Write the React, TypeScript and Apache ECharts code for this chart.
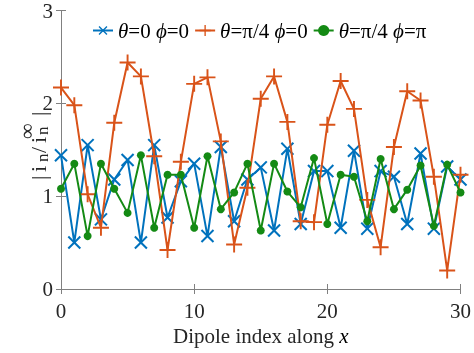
import React, { useEffect, useRef } from "react";
import * as echarts from "echarts";

const dipoleIndex: number[] = Array.from({ length: 31 }, (_, i) => i);

const seriesNames = ["θ=0 ϕ=0", "θ=π/4 ϕ=0", "θ=π/4 ϕ=π"];
const legendLabels = ["{i|θ}=0 {i|ϕ}=0", "{i|θ}=π/4 {i|ϕ}=0", "{i|θ}=π/4 {i|ϕ}=π"];

const theta0phi0: number[] = [
  1.44, 0.5, 1.55, 0.75, 1.18, 1.39, 0.5, 1.55, 0.77, 1.16, 1.35, 0.57, 1.53, 0.73, 1.18, 1.31,
  0.63, 1.51, 0.7, 1.27, 1.27, 0.66, 1.49, 0.65, 1.27, 1.21, 0.7, 1.46, 0.65, 1.32, 1.18,
];
const thetaQuarterPhi0: number[] = [
  2.17, 1.98, 1.02, 0.66, 1.79, 2.44, 2.29, 1.43, 0.42, 1.37, 2.21, 2.28, 1.59, 0.48, 1.09, 2.05,
  2.29, 1.8, 0.73, 0.72, 1.77, 2.24, 1.94, 0.96, 0.45, 1.53, 2.13, 2.03, 1.21, 0.2, 1.23,
];
const thetaQuarterPhiPi: number[] = [
  1.08, 1.35, 0.57, 1.35, 1.08, 0.82, 1.44, 0.66, 1.23, 1.23, 0.66, 1.43, 0.86, 1.04, 1.35, 0.63,
  1.35, 1.05, 0.88, 1.41, 0.7, 1.23, 1.21, 0.73, 1.4, 0.86, 1.07, 1.33, 0.68, 1.34, 1.04,
];

const xTicks = [0, 10, 20, 30];
const yTicks = [0, 1, 2, 3];

const colors = ["#0072BD", "#D95319", "#148A14"];
const FONT = "Liberation Serif";
const PLUS = "path://M44,0H56V44H100V56H56V100H44V56H0V44H44Z";

export default function App() {
  const ref = useRef<HTMLDivElement>(null);
  useEffect(() => {
    if (!ref.current) return;
    const chart = echarts.init(ref.current, undefined, { renderer: "svg" });
    const pairs = (arr: number[]) => arr.map((v, i) => [dipoleIndex[i], v]);
    const axisLine = { show: true, lineStyle: { color: "#808080", width: 1 } };
    const tick = { show: true, inside: true, length: 5, lineStyle: { color: "#808080" } };
    const labelStyle = { fontFamily: FONT, fontSize: 21, color: "#262626" };
    const rich = {
      i: { fontFamily: FONT, fontSize: 21, fontStyle: "italic", color: "#000" },
    };
    const seriesArrays = [theta0phi0, thetaQuarterPhi0, thetaQuarterPhiPi];
    const symbols = [PLUS, PLUS, "circle"];
    const sizes = [17, 16, 8];
    const rotates = [45, 0, 0];
    chart.setOption({
      animation: false,
      grid: { left: 61, right: 12, top: 7, bottom: 64 },
      legend: {
        top: 15,
        left: 87,
        itemWidth: 20,
        itemHeight: 14,
        itemGap: 5,
        data: seriesNames,
        formatter: (name: string) => legendLabels[seriesNames.indexOf(name)],
        textStyle: { fontFamily: FONT, fontSize: 21, color: "#000", rich },
      },
      xAxis: [
        {
          type: "value",
          min: 0,
          max: 30,
          interval: 10,
          axisLine,
          axisTick: tick,
          splitLine: { show: false },
          axisLabel: { ...labelStyle, margin: 11, formatter: (v: number) => (xTicks.includes(v) ? String(v) : "") },
          name: "Dipole index along {i|x}",
          nameLocation: "middle",
          nameGap: 30,
          nameTextStyle: { fontFamily: FONT, fontSize: 21, color: "#262626", rich },
        },
        {
          type: "value",
          position: "top",
          min: 0,
          max: 30,
          interval: 10,
          axisLine,
          axisTick: tick,
          axisLabel: { show: false },
          splitLine: { show: false },
        },
      ],
      yAxis: [
        {
          type: "value",
          min: 0,
          max: 3,
          interval: 1,
          axisLine,
          axisTick: tick,
          splitLine: { show: false },
          axisLabel: { ...labelStyle, margin: 8, formatter: (v: number) => (yTicks.includes(v) ? String(v) : "") },
        },
        {
          type: "value",
          position: "right",
          min: 0,
          max: 3,
          interval: 1,
          axisLine,
          axisTick: tick,
          axisLabel: { show: false },
          splitLine: { show: false },
        },
      ],
      series: seriesArrays.map((arr, k) => ({
        name: seriesNames[k],
        type: "line",
        data: pairs(arr),
        symbol: symbols[k],
        symbolSize: sizes[k],
        symbolRotate: rotates[k],
        showAllSymbol: true,
        lineStyle: { color: colors[k], width: 2 },
        itemStyle: { color: colors[k], borderWidth: 0 },
        z: 2 + k,
      })),
      graphic: [
        {
          type: "group",
          x: 27,
          y: 180,
          rotation: Math.PI / 2,
          children: [
            { type: "text", x: 0, y: 0, style: { text: "|", font: `22px ${FONT}`, fill: "#262626", verticalAlign: "alphabetic" } },
            { type: "text", x: 8, y: 0, style: { text: "i", font: `22px ${FONT}`, fill: "#262626", verticalAlign: "alphabetic" } },
            { type: "text", x: 18, y: 7, style: { text: "n", font: `17px ${FONT}`, fill: "#262626", verticalAlign: "alphabetic" } },
            { type: "text", x: 27, y: 0, style: { text: "/", font: `22px ${FONT}`, fill: "#262626", verticalAlign: "alphabetic" } },
            { type: "text", x: 37, y: 0, style: { text: "i", font: `22px ${FONT}`, fill: "#262626", verticalAlign: "alphabetic" } },
            { type: "text", x: 45, y: 7, style: { text: "n", font: `17px ${FONT}`, fill: "#262626", verticalAlign: "alphabetic" } },
            { type: "text", x: 41, y: -12, style: { text: "∞", font: `22px ${FONT}`, fill: "#262626", verticalAlign: "alphabetic" } },
            { type: "text", x: 64, y: 0, style: { text: "|", font: `22px ${FONT}`, fill: "#262626", verticalAlign: "alphabetic" } },
          ],
        },
      ],
    });
    return () => chart.dispose();
  }, []);
  return <div ref={ref} style={{ position: "fixed", left: 0, top: 0, width: 474, height: 353 }} />;
}
